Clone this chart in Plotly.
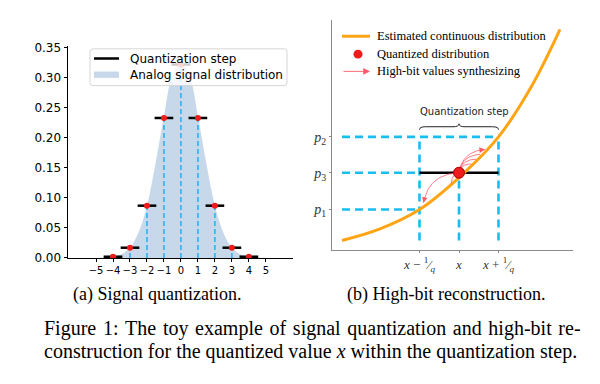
import plotly.graph_objects as go

# ---------------- Left panel data: signal quantization ----------------
levels = [-4, -3, -2, -1, 0, 1, 2, 3, 4]
quantized_prob = [0.002, 0.017, 0.087, 0.233, 0.322, 0.233, 0.087, 0.017, 0.002]
half_step = 0.55
analog_x = [-5, -4.5, -4, -3.5, -3, -2.5, -2, -1.5, -1, -0.5, 0,
            0.5, 1, 1.5, 2, 2.5, 3, 3.5, 4, 4.5, 5]
analog_y = [0.0001, 0.0005, 0.002, 0.006, 0.017, 0.042, 0.087, 0.157, 0.236, 0.305, 0.326,
            0.305, 0.236, 0.157, 0.087, 0.042, 0.017, 0.006, 0.002, 0.0005, 0.0001]
left_xticks = [-5, -4, -3, -2, -1, 0, 1, 2, 3, 4, 5]
left_yticks = [0.00, 0.05, 0.10, 0.15, 0.20, 0.25, 0.30, 0.35]

# ---------------- Right panel data: high-bit reconstruction ----------------
curve_x = [-117, -79, -39.5, 0, 39.5, 74, 101]
curve_y = [10, 22, 42, 75, 117, 172, 228]
step = 39.5                      # 1/q
x_center = 0
p1, p3, p2 = 42, 80, 117
line_start = -117
floor_y = 10
arrow_tx = [26, 21, 17, 12, -7.5, -35.5]
arrow_ty = [104, 99, 94, 89, 69, 49]
right_xtick_vals = [-step, 0, step]
right_xtick_text = ["<i>x</i> − <sup>1</sup>⁄<sub><i>q</i></sub>", "<i>x</i>",
                    "<i>x</i> + <sup>1</sup>⁄<sub><i>q</i></sub>"]
right_ytick_vals = [p1, p3, p2]
right_ytick_text = ["<i>p</i><sub>1</sub>", "<i>p</i><sub>3</sub>", "<i>p</i><sub>2</sub>"]

# page body has an 8px margin: build the figure to fill the rest of the window
OFF = 8
W, H = 600 - OFF, 384 - OFF
BLUE_L = "#3fb6f2"
BLUE_R = "#18bdf2"
ORANGE = "#ffa515"
RED = "#ee1c1c"
ARROW = "#ff5a6a"
FILL = "rgba(142,177,214,0.5)"


def px(x):
    return (x - OFF) / W


def py(y):
    return 1 - (y - OFF) / H


fig = go.Figure()

# ---- left panel traces ----
fig.add_trace(go.Scatter(
    x=analog_x, y=analog_y, mode="lines", line=dict(width=0, shape="spline"),
    fill="tozeroy", fillcolor=FILL, name="Analog signal distribution",
    showlegend=False, hoverinfo="skip"))

vx, vy = [], []
for k, p in zip(levels, quantized_prob):
    vx += [k, k, None]
    vy += [0, p, None]
fig.add_trace(go.Scatter(x=vx, y=vy, mode="lines",
                         line=dict(color=BLUE_L, width=1.8, dash="5px,3px"),
                         showlegend=False, hoverinfo="skip"))

hx, hy = [], []
for k, p in zip(levels, quantized_prob):
    hx += [k - half_step, k + half_step, None]
    hy += [p, p, None]
fig.add_trace(go.Scatter(x=hx, y=hy, mode="lines",
                         line=dict(color="black", width=2.5),
                         name="Quantization step", showlegend=False))

fig.add_trace(go.Scatter(x=levels, y=quantized_prob, mode="markers",
                         marker=dict(color=RED, size=6, line=dict(width=0)),
                         showlegend=False))

# ---- right panel traces ----
def seg(xs, ys):
    return dict(x=xs, y=ys, xaxis="x2", yaxis="y2", mode="lines",
                showlegend=False, hoverinfo="skip")


gx = [line_start, step, None, line_start, -step, None, line_start, -step, None,
      -step, -step, None, x_center, x_center, None, step, step]
gy = [p2, p2, None, p3, p3, None, p1, p1, None,
      floor_y, p2, None, floor_y, p3, None, floor_y, p2]
fig.add_trace(go.Scatter(**seg(gx, gy), line=dict(color=BLUE_R, width=2.6, dash="8px,5px")))

fig.add_trace(go.Scatter(**seg([-step, step], [p3, p3]), line=dict(color="black", width=2.5)))

fig.add_trace(go.Scatter(**seg(curve_x, curve_y),
                         line=dict(color=ORANGE, width=3, shape="spline")))

annotations = []
for tx, ty in zip(arrow_tx, arrow_ty):
    x0, y0 = x_center, p3
    dx, dy = tx - x0, ty - y0
    L = (dx * dx + dy * dy) ** 0.5
    ux, uy = -dy / L, dx / L
    if (-ux + uy) < 0:
        ux, uy = -ux, -uy
    cx = (x0 + tx) / 2 + ux * 0.4 * L
    cy = (y0 + ty) / 2 + uy * 0.4 * L
    n = 24
    bx, by = [], []
    for i in range(n + 1):
        t = i / n
        bx.append((1 - t) ** 2 * x0 + 2 * (1 - t) * t * cx + t * t * tx)
        by.append((1 - t) ** 2 * y0 + 2 * (1 - t) * t * cy + t * t * ty)
    fig.add_trace(go.Scatter(**seg(bx, by), line=dict(color=ARROW, width=0.8)))
    annotations.append(dict(x=tx, y=ty, ax=bx[-3], ay=by[-3], xref="x2", yref="y2",
                            axref="x2", ayref="y2", text="", showarrow=True,
                            arrowhead=2, arrowsize=1.4, arrowwidth=0.8,
                            arrowcolor=ARROW, standoff=0))

fig.add_trace(go.Scatter(x=[x_center], y=[p3], xaxis="x2", yaxis="y2", mode="markers",
                         marker=dict(color=RED, size=11, line=dict(color="#b00000", width=1)),
                         showlegend=False))

# curly brace over the quantization step
r = 6
yb, yt, yp = 124.5, 127.5, 130.5
brace = (f"M {-step},{yb} Q {-step},{yt} {-step + r},{yt} L {-r},{yt} "
         f"Q 0,{yt} 0,{yp} Q 0,{yt} {r},{yt} L {step - r},{yt} Q {step},{yt} {step},{yb}")
shapes = [dict(type="path", path=brace, xref="x2", yref="y2",
               line=dict(color="#222", width=1))]
annotations.append(dict(x=5.5, y=143, xref="x2", yref="y2", text="Quantization step",
                        showarrow=False, xanchor="center",
                        font=dict(family="DejaVu Sans", size=10, color="#222")))

# ---- legend of the left panel (matplotlib style box) ----
bx0, bx1, by0, by1, rr = px(90), px(287), py(83), py(45), 3
rx, ry = rr / W, rr / H
box = (f"M {bx0 + rx},{by0} L {bx1 - rx},{by0} Q {bx1},{by0} {bx1},{by0 + ry} "
       f"L {bx1},{by1 - ry} Q {bx1},{by1} {bx1 - rx},{by1} L {bx0 + rx},{by1} "
       f"Q {bx0},{by1} {bx0},{by1 - ry} L {bx0},{by0 + ry} Q {bx0},{by0} {bx0 + rx},{by0} Z")
shapes.append(dict(type="path", path=box, xref="paper", yref="paper",
                   fillcolor="rgba(255,255,255,0.8)", line=dict(color="#d6d6d6", width=1)))
shapes.append(dict(type="line", xref="paper", yref="paper",
                   x0=px(94), x1=px(119), y0=py(55), y1=py(55),
                   line=dict(color="black", width=2.5)))
shapes.append(dict(type="rect", xref="paper", yref="paper",
                   x0=px(94), x1=px(119), y0=py(75), y1=py(68.5),
                   fillcolor=FILL, line=dict(width=0)))
for t, yy in [("Quantization step", 55), ("Analog signal distribution", 72)]:
    annotations.append(dict(x=px(128), y=py(yy), xref="paper", yref="paper", text=t,
                            showarrow=False, xanchor="left", yanchor="middle",
                            font=dict(family="DejaVu Sans", size=12, color="black")))

# ---- legend of the right panel ----
shapes.append(dict(type="line", xref="paper", yref="paper",
                   x0=px(342), x1=px(370), y0=py(32), y1=py(32),
                   line=dict(color=ORANGE, width=3)))
shapes.append(dict(type="circle", xref="paper", yref="paper",
                   x0=px(353.5), x1=px(362.5), y0=py(55), y1=py(46),
                   fillcolor=RED, line=dict(color=RED, width=0)))
annotations.append(dict(x=px(370), y=py(68.3), xref="paper", yref="paper",
                        ax=-28, ay=0, text="", showarrow=True, arrowhead=2,
                        arrowsize=1.5, arrowwidth=0.9, arrowcolor=ARROW, standoff=0))
leg_font = dict(family="Liberation Serif", size=12.5, color="black")
for t, yy in [("Estimated continuous distribution", 32),
              ("Quantized distribution", 50),
              ("High-bit values synthesizing", 68)]:
    annotations.append(dict(x=px(375), y=py(yy), xref="paper", yref="paper", text=t,
                            showarrow=False, xanchor="left", yanchor="middle", font=leg_font))

# ---- captions ----
cap_font = dict(family="Liberation Serif", size=18, color="black")
annotations.append(dict(x=px(157), y=py(299), xref="paper", yref="paper", xanchor="center",
                        yanchor="middle", text="(a) Signal quantization.", showarrow=False,
                        font=cap_font))
annotations.append(dict(x=px(446), y=py(299), xref="paper", yref="paper", xanchor="center",
                        yanchor="middle", text="(b) High-bit reconstruction.", showarrow=False,
                        font=cap_font))
fig_font = dict(family="Liberation Serif", size=20, color="black")
line1 = "Figure 1: The toy example of signal quantization and high-bit re-"
line1 = line1.replace(" ", " \u200a")   # mimic justified spacing
annotations.append(dict(x=px(42), y=py(334), xref="paper", yref="paper", xanchor="left",
                        yanchor="middle", text=line1, showarrow=False, font=fig_font))
annotations.append(dict(x=px(42), y=py(358), xref="paper", yref="paper", xanchor="left",
                        yanchor="middle",
                        text="construction for the quantized value <i>x</i> within the quantization step.",
                        showarrow=False, font=fig_font))

fig.update_layout(
    width=W, height=H, margin=dict(l=0, r=0, t=0, b=0),
    paper_bgcolor="white", plot_bgcolor="white", showlegend=False,
    font=dict(family="DejaVu Sans", color="black"),
    xaxis=dict(domain=[px(68), px(293)], range=[-6.65, 6.6], tickvals=left_xticks,
               ticktext=[("−" + str(-v)) if v < 0 else str(v) for v in left_xticks],
               showline=True, linecolor="black", linewidth=1, ticks="outside",
               ticklen=3.5, tickcolor="black", tickfont=dict(size=10),
               showgrid=False, zeroline=False),
    yaxis=dict(domain=[py(261), py(42)], range=[0, 0.353], tickvals=left_yticks,
               ticktext=[f"{v:.2f}" for v in left_yticks],
               showline=True, linecolor="black", linewidth=1, ticks="outside",
               ticklen=3.5, tickcolor="black", tickfont=dict(size=12),
               showgrid=False, zeroline=False),
    xaxis2=dict(domain=[px(332), px(573)], range=[-127, 114], anchor="y2",
                tickvals=right_xtick_vals, ticktext=right_xtick_text,
                showline=True, linecolor="#8a8a8a", linewidth=1.3, ticks="outside",
                ticklen=2, tickcolor="#8a8a8a",
                tickfont=dict(family="Liberation Serif", size=13, color="#333"),
                showgrid=False, zeroline=False),
    yaxis2=dict(domain=[py(253), py(15)], range=[0, 238], anchor="x2",
                tickvals=right_ytick_vals, ticktext=right_ytick_text,
                showline=True, linecolor="#8a8a8a", linewidth=1.3, ticks="outside",
                ticklen=2, tickcolor="#8a8a8a",
                tickfont=dict(family="Liberation Serif", size=14, color="#333"),
                showgrid=False, zeroline=False),
    shapes=shapes, annotations=annotations,
)

fig.write_html("out.html")
